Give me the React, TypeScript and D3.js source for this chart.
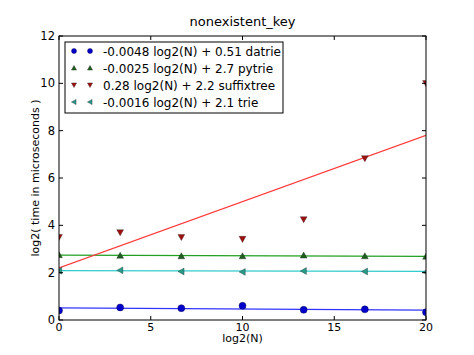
import React from "react";
import * as d3 from "d3";

const xs = [0, 3.333, 6.667, 10, 13.333, 16.667, 20];
const datrie = [0.40, 0.53, 0.50, 0.60, 0.43, 0.45, 0.33];
const pytrie = [2.75, 2.72, 2.70, 2.70, 2.73, 2.70, 2.68];
const suffixtree = [3.5, 3.7, 3.5, 3.42, 4.25, 6.83, 10.0];
const trie = [2.08, 2.1, 2.05, 2.03, 2.07, 2.05, 2.02];
const fitSlopes = [-0.0048, -0.0025, 0.28, -0.0016];
const fitIntercepts = [0.51, 2.74, 2.2, 2.09];
const labels = [
  "-0.0048 log2(N) + 0.51 datrie",
  "-0.0025 log2(N) + 2.7 pytrie",
  "0.28 log2(N) + 2.2 suffixtree",
  "-0.0016 log2(N) + 2.1 trie",
];
const xTicks = [0, 5, 10, 15, 20];
const yTicks = [0, 2, 4, 6, 8, 10, 12];

const seriesData = [datrie, pytrie, suffixtree, trie];
const lineColors = ["#3333ff", "#22a022", "#ff3b3b", "#33cccc"];
const markerColors = ["#0000cc", "#1f5f1f", "#a01010", "#2a9a8a"];
const markerTypes = ["circle", "up", "down", "left"];

const W = 474, H = 355;
const L = 59, R = 426, T = 36, B = 320;

function Marker({ type, x, y, color, s = 3.4, r = 3.5 }: { type: string; x: number; y: number; color: string; s?: number; r?: number }) {
  if (type === "circle") return <circle cx={x} cy={y} r={r} fill={color} stroke="#000040" strokeWidth={0.4} />;
  let pts: [number, number][] = [];
  if (type === "up") pts = [[x, y - s], [x - s, y + s * 0.8], [x + s, y + s * 0.8]];
  if (type === "down") pts = [[x, y + s], [x - s, y - s * 0.8], [x + s, y - s * 0.8]];
  if (type === "left") pts = [[x - s, y], [x + s * 0.8, y - s], [x + s * 0.8, y + s]];
  return <polygon points={pts.map((p) => p.join(",")).join(" ")} fill={color} stroke="#000" strokeWidth={0.3} />;
}

export default function App() {
  const x = d3.scaleLinear().domain([0, 20]).range([L, R]);
  const y = d3.scaleLinear().domain([0, 12]).range([B, T]);
  const font = "DejaVu Sans, sans-serif";
  return (
    <svg width={W} height={H} style={{ position: "absolute", left: 0, top: 0, background: "#fff" }} fontFamily={font}>
      <defs>
        <clipPath id="plot">
          <rect x={L} y={T} width={R - L} height={B - T} />
        </clipPath>
      </defs>
      <rect x={0} y={0} width={W} height={H} fill="#fff" />
      <g clipPath="url(#plot)">
        {seriesData.map((d, i) => {
          const line = d3.line<number>().x((v) => x(v)).y((v) => y(fitSlopes[i] * v + fitIntercepts[i]));
          return <path key={"l" + i} d={line([0, 20]) || ""} stroke={lineColors[i]} strokeWidth={1.2} fill="none" />;
        })}
        {seriesData.map((d, i) =>
          d.map((v, j) => <Marker key={`m${i}-${j}`} type={markerTypes[i]} x={x(xs[j])} y={y(v)} color={markerColors[i]} />)
        )}
      </g>
      <rect x={L} y={T} width={R - L} height={B - T} fill="none" stroke="#000" strokeWidth={1} />
      {xTicks.map((t) => (
        <g key={"xt" + t}>
          <line x1={x(t)} x2={x(t)} y1={B} y2={B - 4} stroke="#000" />
          <line x1={x(t)} x2={x(t)} y1={T} y2={T + 4} stroke="#000" />
          <text x={x(t)} y={B + 10.5} textAnchor="middle" fontSize={11}>{t}</text>
        </g>
      ))}
      {yTicks.map((t) => (
        <g key={"yt" + t}>
          <line x1={L} x2={L + 4} y1={y(t)} y2={y(t)} stroke="#000" />
          <line x1={R} x2={R - 4} y1={y(t)} y2={y(t)} stroke="#000" />
          <text x={L - 4} y={y(t) + 4} textAnchor="end" fontSize={11.5}>{t}</text>
        </g>
      ))}
      <text x={(L + R) / 2} y={26} textAnchor="middle" fontSize={13}>nonexistent_key</text>
      <text x={(L + R) / 2} y={342} textAnchor="middle" fontSize={11}>log2(N)</text>
      <text transform={`translate(39,${(T + B) / 2}) rotate(-90)`} textAnchor="middle" fontSize={11}>
        log2( time in microseconds )
      </text>
      <g>
        <rect x={65} y={42} width={218} height={71} fill="#fff" stroke="#000" strokeWidth={1} />
        {labels.map((lab, i) => {
          const cy = 51 + i * 17;
          return (
            <g key={"lg" + i}>
              <Marker type={markerTypes[i]} x={74} y={cy} color={markerColors[i]} s={2.6} r={2.5} />
              <Marker type={markerTypes[i]} x={90} y={cy} color={markerColors[i]} s={2.6} r={2.5} />
              <text x={103} y={cy + 4.5} fontSize={12}>{lab}</text>
            </g>
          );
        })}
      </g>
    </svg>
  );
}
